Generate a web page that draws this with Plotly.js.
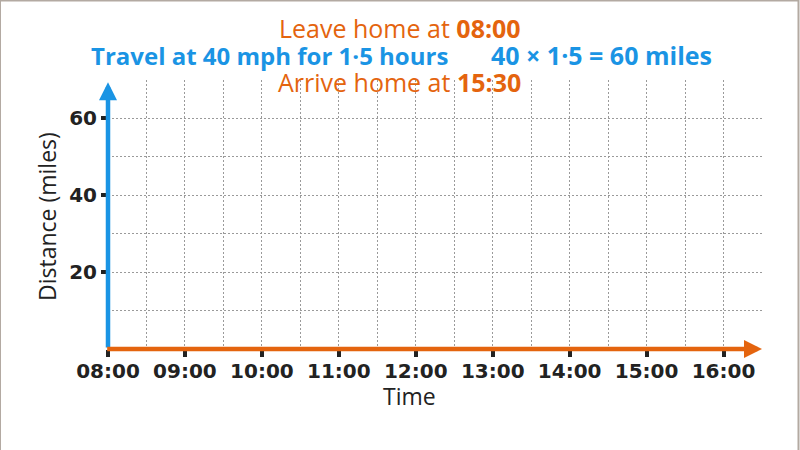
<!DOCTYPE html>
<html>
<head>
<meta charset="utf-8">
<script src="https://cdn.plot.ly/plotly-3.0.1.min.js"></script>
<style>html,body{margin:0;padding:0;background:#fff;}#chart{width:800px;height:450px;}</style>
</head>
<body>
<div id="chart"></div>
<script>
// Data (the chart is an empty distance-time grid)
const hourVals = [8, 9, 10, 11, 12, 13, 14, 15, 16];
const hourLabels = ["08:00", "09:00", "10:00", "11:00", "12:00", "13:00", "14:00", "15:00", "16:00"];
const halfHourVals = [8.5, 9.5, 10.5, 11.5, 12.5, 13.5, 14.5, 15.5];
const distTickVals = [20, 40, 60];
const distTickLabels = ["20", "40", "60"];
const distMinorVals = [10, 30, 50];
const xRange = [8, 16.5];
const yRange = [0, 70];
const titleLine1 = "Leave home at <b>08:00</b>";
const titleLine2a = "<b>Travel at 40 mph for 1·5 hours</b>";
const titleLine2b = "<b>40 × 1·5 = 60 miles</b>";
const titleLine3 = "Arrive home at <b>15:30</b>";
const xTitle = "Time";
const yTitle = "Distance (miles)";

const ORANGE = "#E4640E";
const BLUE = "#1A94E4";
const INK = "#222222";
const GRID = "#9a9a9a";

const L = 108, R = 38, T = 80, B = 101, W = 800, H = 450;
const pw = W - L - R, ph = H - T - B;
const px = v => (v - L) / pw;            // pixel x -> paper x
const py = v => (H - B - v) / ph;        // pixel y -> paper y

const trace = {x: xRange, y: yRange, mode: "markers", marker: {opacity: 0}, hoverinfo: "skip", showlegend: false};

const gridStyle = {showgrid: true, gridcolor: GRID, gridwidth: 1, griddash: "2px,2px"};
const tickFont = {family: "DejaVu Sans", size: 20, color: INK, weight: "bold"};

const layout = {
  width: W, height: H,
  margin: {l: L, r: R, t: T, b: B, pad: 0},
  paper_bgcolor: "#fff", plot_bgcolor: "#fff",
  showlegend: false,
  xaxis: Object.assign({
    range: xRange, tickmode: "array", tickvals: hourVals, ticktext: hourLabels,
    ticks: "outside", ticklen: 7, tickwidth: 4, tickcolor: INK, ticklabelstandoff: -3,
    tickfont: tickFont,
    zeroline: false, showline: false, fixedrange: true,
    minor: Object.assign({tickmode: "array", tickvals: halfHourVals, ticks: ""}, gridStyle)
  }, gridStyle),
  yaxis: Object.assign({
    range: yRange, tickmode: "array", tickvals: distTickVals, ticktext: distTickLabels,
    ticks: "outside", ticklen: 6, tickwidth: 4, tickcolor: INK,
    tickfont: tickFont,
    zeroline: false, showline: false, fixedrange: true,
    minor: Object.assign({tickmode: "array", tickvals: distMinorVals, ticks: ""}, gridStyle)
  }, gridStyle),
  shapes: [
    {type: "rect", xref: "paper", yref: "paper", x0: px(0), x1: px(798.5), y0: py(0.5), y1: py(470),
     line: {color: "#b3aaa2", width: 2}, fillcolor: "rgba(0,0,0,0)", layer: "above"}
  ],
  annotations: [
    // y axis arrow (blue)
    {x: xRange[0], y: 69.4, xref: "x", yref: "y", ax: xRange[0], ay: yRange[0], axref: "x", ayref: "y",
     text: "", showarrow: true, arrowhead: 2, arrowsize: 0.8, arrowwidth: 4.5, arrowcolor: BLUE, standoff: 0},
    // x axis arrow (orange)
    {x: xRange[1], y: yRange[0], xref: "x", yref: "y", ax: 7.97, ay: yRange[0], axref: "x", ayref: "y",
     text: "", showarrow: true, arrowhead: 2, arrowsize: 0.8, arrowwidth: 4.5, arrowcolor: ORANGE, standoff: 0},
    {text: titleLine1, xref: "paper", yref: "paper", x: px(399.5), y: py(28), xanchor: "center", yanchor: "middle",
     showarrow: false, font: {family: "Open Sans", size: 25, color: ORANGE}},
    {text: titleLine2a, xref: "paper", yref: "paper", x: px(269.5), y: py(55), xanchor: "center", yanchor: "middle",
     showarrow: false, font: {family: "Open Sans", size: 24, color: BLUE}},
    {text: titleLine2b, xref: "paper", yref: "paper", x: px(601), y: py(55), xanchor: "center", yanchor: "middle",
     showarrow: false, font: {family: "Open Sans", size: 25, color: BLUE}},
    {text: titleLine3, xref: "paper", yref: "paper", x: px(399.5), y: py(82), xanchor: "center", yanchor: "middle",
     showarrow: false, font: {family: "Open Sans", size: 25, color: ORANGE}},
    {text: xTitle, xref: "paper", yref: "paper", x: px(409.5), y: py(396), xanchor: "center", yanchor: "middle",
     showarrow: false, font: {family: "Open Sans", size: 23, color: INK}},
    {text: yTitle, xref: "paper", yref: "paper", x: px(47), y: py(217), xanchor: "center", yanchor: "middle",
     textangle: -90, showarrow: false, font: {family: "Open Sans", size: 23, color: INK}}
  ]
};

Plotly.newPlot("chart", [trace], layout, {displayModeBar: false, staticPlot: true});
</script>
</body>
</html>
